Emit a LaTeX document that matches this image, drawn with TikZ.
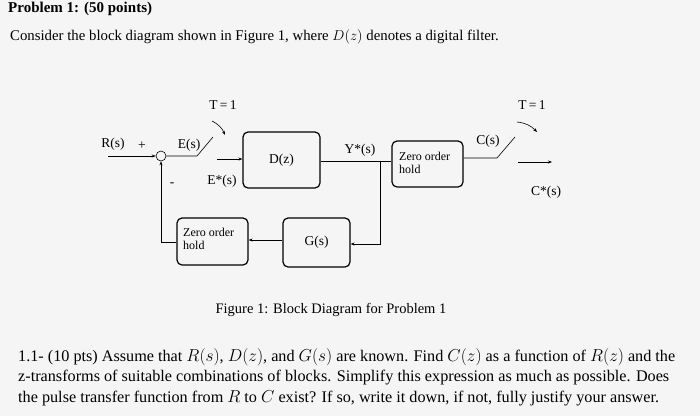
\documentclass[tikz,border=0pt]{standalone}
\usepackage{fontspec}
\setmainfont{Liberation Serif}
\usetikzlibrary{arrows.meta}
\begin{document}
\begin{tikzpicture}[x=1pt,y=-1pt,
  blk/.style={draw,line width=1.2pt,rounded corners=5pt,inner sep=0pt},
  ln/.style={line width=0.6pt},
  arr/.style={ln,-{Stealth[length=4pt,width=3pt]}},
  lbl/.style={font=\fontsize{13.5}{15}\selectfont},
  zoh/.style={anchor=north west,align=left,inner sep=0pt,font=\fontsize{12}{13}\selectfont},
  txt/.style={font=\fontsize{16.2}{17}\selectfont,anchor=west,inner sep=0pt}]
\useasboundingbox (0,0) rectangle (700,416);
\fill[gray!8] (0,0) rectangle (700,416);
\node[txt,font=\bfseries\fontsize{15}{16}\selectfont] (title) at (8,9) {Problem 1: (50 points)};
\node[txt,font=\fontsize{14.8}{16}\selectfont] (intro) at (10,37) {Consider the block diagram shown in Figure 1, where $D(z)$ denotes a digital filter.};
% blocks
\node[blk,minimum width=77,minimum height=56] (D) at (281.5,160) {\fontsize{13.5}{15}\selectfont D(z)};
\node[blk,minimum width=71,minimum height=46] (Z1) at (427.5,164) {};
\node[zoh] (Z1t) at (399,152) {Zero order\\hold};
\node[blk,minimum width=67,minimum height=49] (G) at (316.5,242.5) {\fontsize{13.5}{15}\selectfont G(s)};
\node[blk,minimum width=71,minimum height=47] (Z2) at (212.5,241.5) {};
\node[zoh] (Z2t) at (183,228) {Zero order\\hold};
\node[draw,circle,ln,minimum size=10pt,inner sep=0pt] (S) at (161,156) {};
% coordinates
\coordinate (Rin) at (108,156);
\coordinate (sw1a) at (197,156);
\coordinate (sw1b) at (213,137);
\coordinate (ein) at (217,159);
\coordinate (br) at (380,161);
\coordinate (brd) at (380,244);
\coordinate (fbc) at (161,242);
\coordinate (sw2a) at (497,158);
\coordinate (sw2b) at (515,137);
\coordinate (cin) at (518,162);
\coordinate (cout) at (552,162);
% connectors
\draw[arr] (Rin) -- (S);
\draw[ln] (S) -- (sw1a) -- (sw1b);
\draw[arr] (ein) -- (D.west |- ein);
\draw[ln] (D.east |- br) -- (Z1.west |- br);
\draw[arr] (br) -- (brd) -- (G.east |- brd);
\draw[arr] (G.west |- 0,240) -- (Z2.east |- 0,240);
\draw[arr] (Z2.west |- fbc) -- (fbc) -- (S.south);
\draw[ln] (Z1.east |- sw2a) -- (sw2a) -- (sw2b);
\draw[arr] (cin) -- (cout);
\draw[arr] (212,121) to[bend left=20] (225,135);
\draw[arr] (517,122) to[bend left=20] (537,132);
% labels
\node[lbl] (T1) at (223,105) {T\,=\,1};
\node[lbl] (T2) at (532,105) {T\,=\,1};
\node[lbl] (R) at (113,144) {R(s)};
\node[lbl] (plus) at (142,146) {+};
\node[lbl] (minus) at (172,185) {-};
\node[lbl] (E) at (189,145) {E(s)};
\node[lbl] (Es) at (222,181) {E*(s)};
\node[lbl] (Y) at (360,150) {Y*(s)};
\node[lbl] (C) at (488,141) {C(s)};
\node[lbl] (Cs) at (546,192) {C*(s)};
\node[font=\fontsize{14.5}{16}\selectfont] (cap) at (331,310) {Figure 1: Block Diagram for Problem 1};
\node[txt] (p1) at (18,357) {1.1- (10 pts) Assume that $R(s)$, $D(z)$, and $G(s)$ are known. Find $C(z)$ as a function of $R(z)$ and the};
\node[txt] (p2) at (18,378) {z-transforms of suitable combinations of blocks. Simplify this expression as much as possible. Does};
\node[txt] (p3) at (18,398) {the pulse transfer function from $R$ to $C$ exist? If so, write it down, if not, fully justify your answer.};
\end{tikzpicture}
\end{document}
